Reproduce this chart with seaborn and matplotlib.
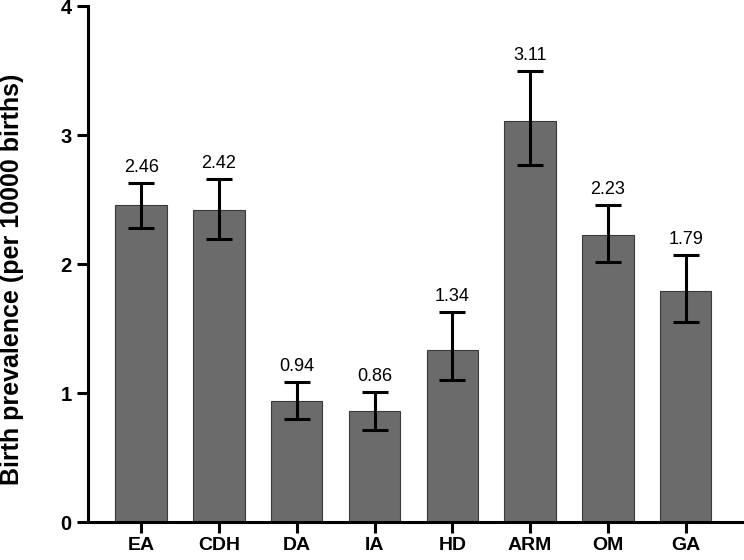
import seaborn as sns
import matplotlib.pyplot as plt
import numpy as np
import pandas as pd

# anomaly categories and birth prevalence (per 10000 births)
categories = ['EA', 'CDH', 'DA', 'IA', 'HD', 'ARM', 'OM', 'GA']
prevalence = [2.46, 2.42, 0.94, 0.86, 1.34, 3.11, 2.23, 1.79]
ci_lower = [2.28, 2.20, 0.80, 0.72, 1.10, 2.77, 2.02, 1.55]
ci_upper = [2.63, 2.66, 1.09, 1.01, 1.63, 3.50, 2.46, 2.07]

df = pd.DataFrame({'anomaly': categories, 'prevalence': prevalence})

sns.set_style('ticks', {'axes.edgecolor': 'black', 'text.color': 'black',
                        'xtick.color': 'black', 'ytick.color': 'black',
                        'axes.labelcolor': 'black'})
plt.rcParams['font.family'] = ['Liberation Sans', 'DejaVu Sans']

fig = plt.figure(figsize=(7.44, 5.6), dpi=100)
ax = fig.add_axes([0.118, 0.067, 0.882, 0.922])

sns.barplot(data=df, x='anomaly', y='prevalence', color='#6b6b6b',
            saturation=1, width=0.66, edgecolor='#3a3a3a', linewidth=0.8,
            errorbar=None, ax=ax)

x = np.arange(len(categories))
vals = np.array(prevalence)
yerr = [vals - np.array(ci_lower), np.array(ci_upper) - vals]
ax.errorbar(x, vals, yerr=yerr, fmt='none', ecolor='black',
            elinewidth=2.2, capsize=9.5, capthick=2.2)

for xi, v, up in zip(x, prevalence, ci_upper):
    ax.annotate(f'{v:.2f}', (xi, up), xytext=(0, 5), textcoords='offset points',
                ha='center', va='bottom', fontsize=13, color='black')

ax.set_xlim(-0.686, 7.75)
ax.set_ylim(0, 4)
ax.set_yticks([0, 1, 2, 3, 4])
ax.set_xlabel('')
ax.set_ylabel('Birth prevalence (per 10000 births)', fontsize=18,
              fontweight='bold')
ax.yaxis.set_label_coords(-0.097, 0.47)
ax.tick_params(axis='both', width=2.2, length=8, labelsize=14.5)
ax.tick_params(axis='x', length=8, pad=2.5, labelsize=14)
for lab in ax.get_xticklabels() + ax.get_yticklabels():
    lab.set_fontweight('bold')
for s in ['left', 'bottom']:
    ax.spines[s].set_linewidth(2.2)
sns.despine(ax=ax)

fig.savefig('out.png', dpi=100)
